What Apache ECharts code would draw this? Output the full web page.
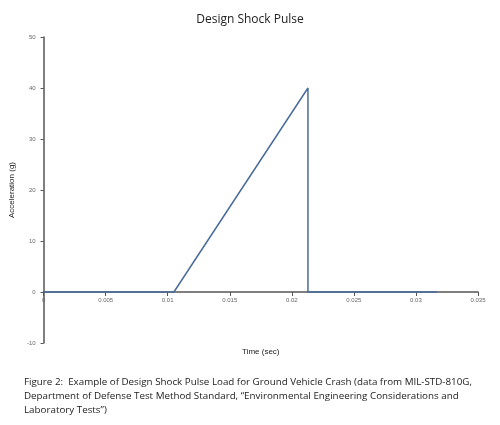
<!DOCTYPE html>
<html><head><meta charset="utf-8">
<script src="https://cdn.jsdelivr.net/npm/echarts@6/dist/echarts.min.js"></script>
<style>body{margin:0;background:#fff}#c{width:500px;height:425px}</style>
</head><body><div id="c"></div>
<script>
var times = [0, 0.0105, 0.0213, 0.0213, 0.0317];
var accel = [0, 0, 40, 0, 0];
var xTicks = [0, 0.005, 0.01, 0.015, 0.02, 0.025, 0.03, 0.035];
var chart = echarts.init(document.getElementById('c'));
var axisLine = {lineStyle:{color:'#555', width:1.5}};
chart.setOption({
  animation:false,
  title:{text:'Design Shock Pulse', left:'center', top:9, textStyle:{fontFamily:'Open Sans', fontSize:12, fontWeight:'normal', color:'#222'}},
  grid:{left:40, right:22, top:37, bottom:82},
  xAxis:{type:'value', min:0, max:0.035, interval:0.005, offset:-51,
    axisLine:{onZero:false, lineStyle:{color:'#555', width:1.5}},
    axisTick:{show:true, length:4, lineStyle:{color:'#555'}}, splitLine:{show:false},
    axisLabel:{fontSize:6, color:'#666', margin:5, formatter:function(v){return String(+v.toFixed(3));}},
    name:'Time (sec)', nameLocation:'middle', nameGap:56, nameTextStyle:{fontSize:8, color:'#222'}},
  yAxis:{type:'value', min:-10, max:50, interval:10, axisLine:Object.assign({show:true},axisLine),
    axisTick:{show:true, length:3, lineStyle:{color:'#555'}}, splitLine:{show:false},
    axisLabel:{fontSize:6, color:'#666', margin:8},
    name:'Acceleration (g)', nameLocation:'middle', nameGap:22, nameTextStyle:{fontSize:8, color:'#222'}},
  graphic:[{type:'text', left:24, top:375, style:{text:'Figure 2:  Example of Design Shock Pulse Load for Ground Vehicle Crash (data from MIL-STD-810G,\nDepartment of Defense Test Method Standard, \u201cEnvironmental Engineering Considerations and\nLaboratory Tests\u201d)', fontSize:9.8, lineHeight:14, fontFamily:'Open Sans', fill:'#222'}}],
  series:[{type:'line', data:times.map(function(t,i){return [t,accel[i]];}), symbol:'none',
    lineStyle:{color:'#4a6c9b', width:1.5}}]
});
</script></body></html>
